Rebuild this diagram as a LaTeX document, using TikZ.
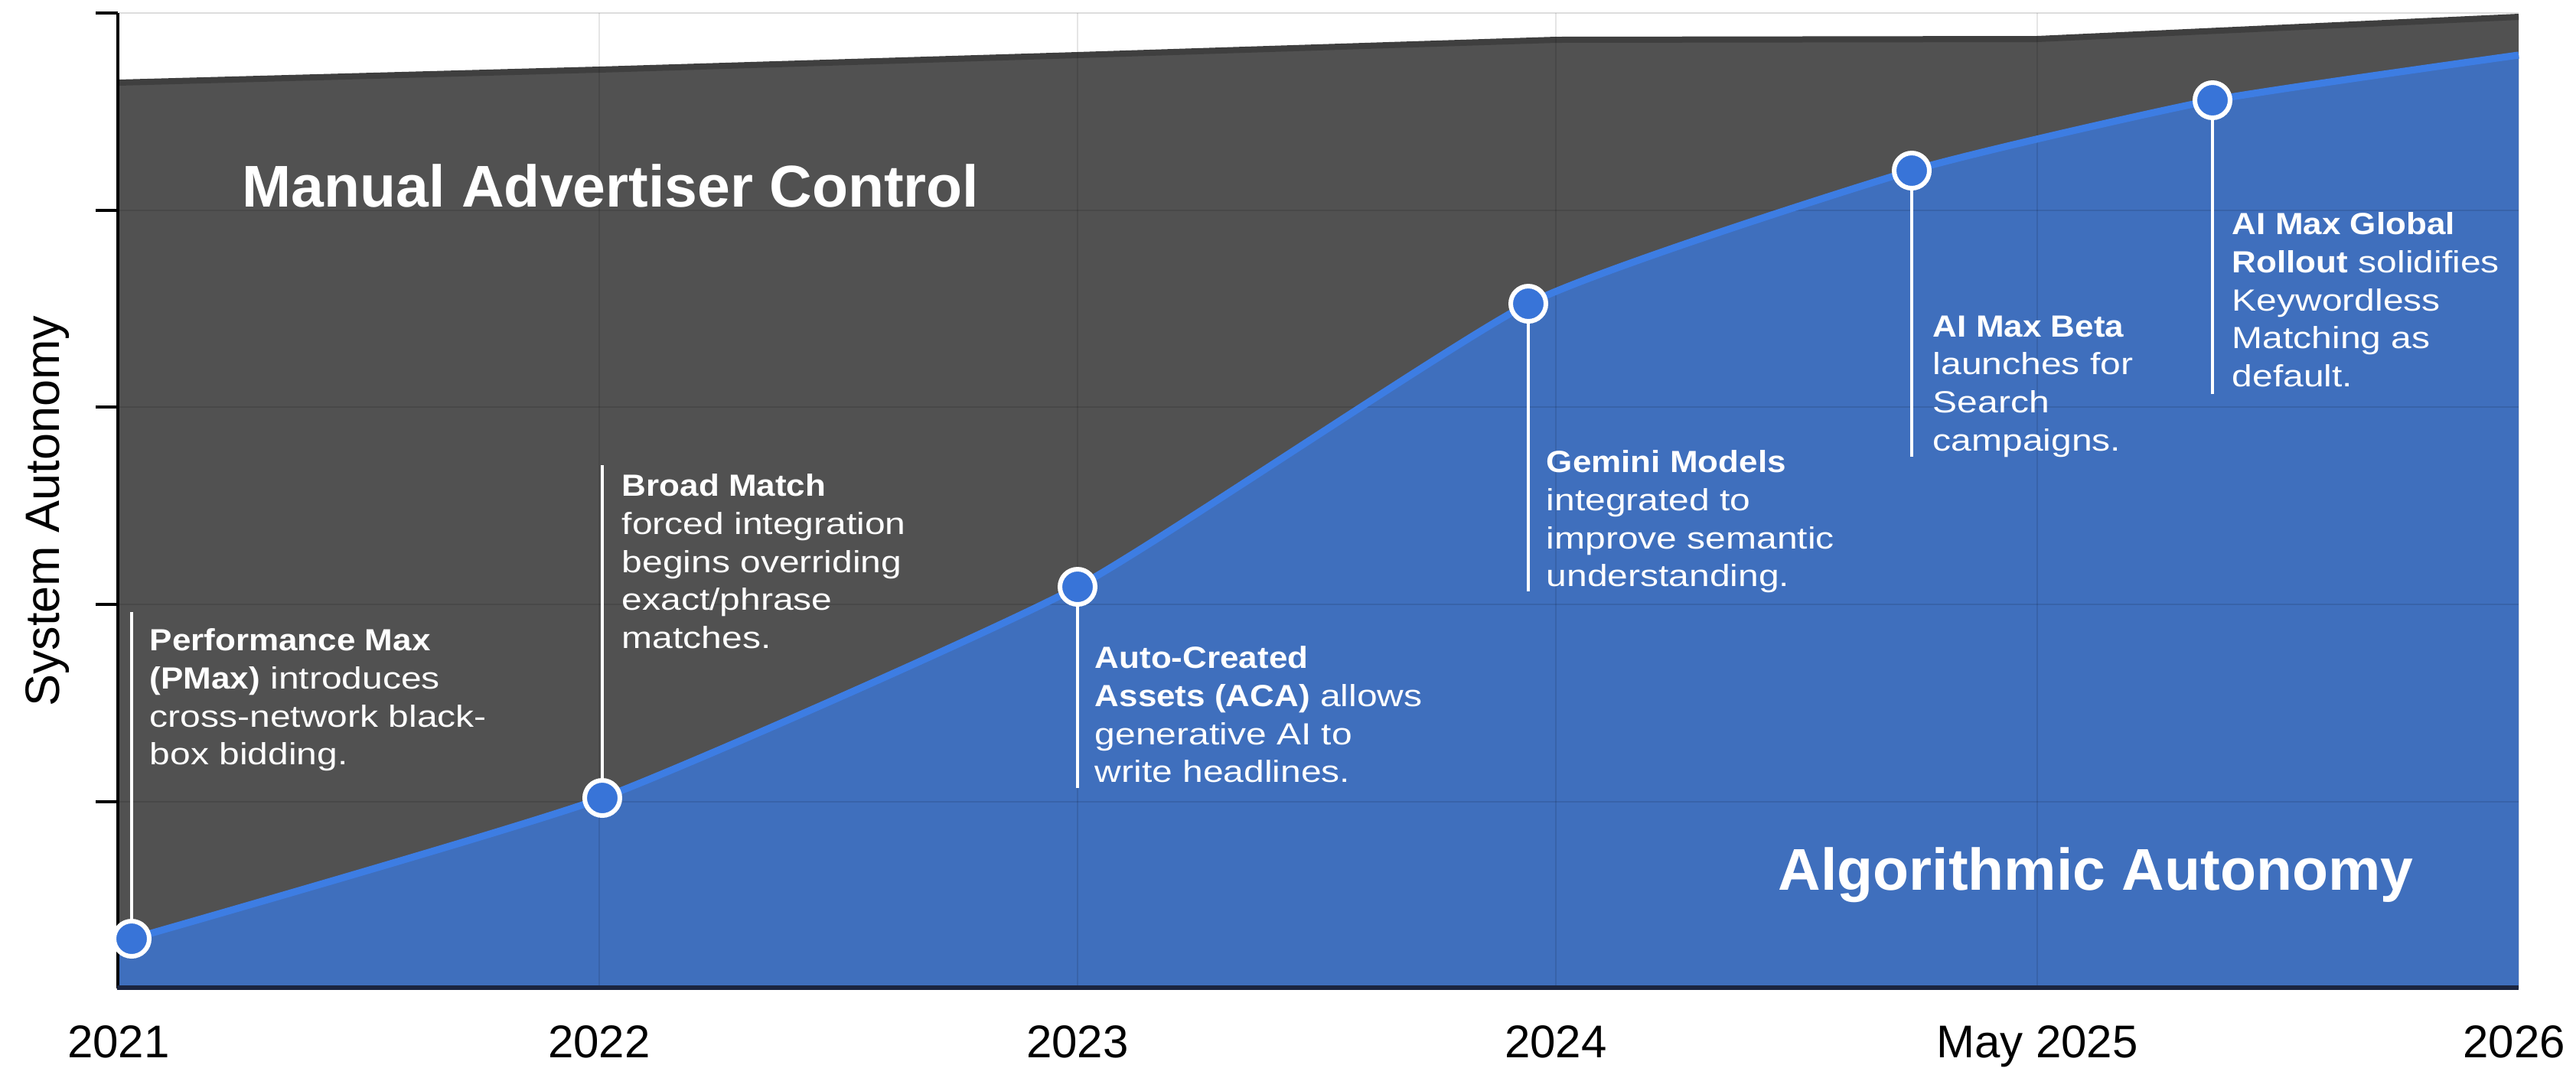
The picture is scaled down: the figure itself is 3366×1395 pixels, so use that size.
\documentclass[tikz,border=0pt]{standalone}
\usepackage{fontspec}
\setmainfont{Liberation Sans}
\newfontfamily\annfont{Liberation Sans}[FakeStretch=1.2, BoldFeatures={FakeStretch=1.1}]
\definecolor{manual}{HTML}{515151}
\definecolor{manualedge}{HTML}{3F3F3F}
\definecolor{algo}{HTML}{3F6FBD}
\definecolor{algoline}{HTML}{3D7DE3}
\definecolor{dotblue}{HTML}{3874D8}
\definecolor{axisnavy}{HTML}{1B2540}
\definecolor{gridlight}{HTML}{DDDDDD}
\begin{document}
\begin{tikzpicture}[x=0.25pt,y=-0.25pt,
  ann/.style={font=\annfont\fontsize{10pt}{12.4pt}\selectfont, text=white, align=left, anchor=north west, inner sep=0pt},
  big/.style={font=\fontsize{19.25pt}{22pt}\selectfont\bfseries, text=white, inner sep=0pt, anchor=base west},
  yr/.style={font=\fontsize{15pt}{18pt}\selectfont, text=black, anchor=base, inner sep=0pt},
  dot/.style={circle, draw=white, line width=1.5pt, fill=dotblue, minimum size=11.5pt, inner sep=0pt},
  leader/.style={draw=white, line width=1pt},
  grid/.style={black, opacity=0.1, line width=0.5pt},
]
\useasboundingbox (0,0) rectangle (3366,1395);
\fill[white] (0,0) rectangle (3366,1395);
% top border of plot
\draw[gridlight, line width=0.7pt] (155,17) -- (3291,17);
% manual control area
\fill[manual] (155,105) -- (783,88) -- (1408,69) -- (2033,49) -- (2662,48) -- (3291,19) -- (3291,1292) -- (155,1292) -- cycle;
\draw[manualedge, line width=2pt] (155,108) -- (783,91) -- (1408,72) -- (2033,52) -- (2662,51) -- (3291,22);
% algorithmic area
\fill[algo] (155,1292) -- plot[smooth, tension=0.3] coordinates {(155,1232) (787,1043) (1408,767) (1997,397) (2498,223) (2891,131) (3291,72)} -- (3291,1292) -- cycle;
% grid
\foreach \x in {783,1408,2033,2662} \draw[grid] (\x,17) -- (\x,1292);
\foreach \y in {275,532,790,1048} \draw[grid] (155,\y) -- (3291,\y);
% curve
\draw[algoline, line width=2.3pt, line join=round] plot[smooth, tension=0.3] coordinates {(155,1232) (787,1043) (1408,767) (1997,397) (2498,223) (2891,131) (3291,72)};
% axes
\draw[black, line width=1pt] (154,17) -- (154,1292);
\foreach \y in {17,275,532,790,1048} \draw[black, line width=1pt] (125,\y) -- (154,\y);
\draw[axisnavy, line width=1.3pt] (153,1291) -- (3291,1291);
% milestone dots
\node[dot] (c1) at (172,1227) {};
\node[dot] (c2) at (787,1043) {};
\node[dot] (c3) at (1408,767) {};
\node[dot] (c4) at (1997,397) {};
\node[dot] (c5) at (2498,223) {};
\node[dot] (c6) at (2891,131) {};
% leader ends
\coordinate (t1) at (172,800);
\coordinate (t2) at (787,608);
\coordinate (b3) at (1408,1030);
\coordinate (b4) at (1997,773);
\coordinate (b5) at (2498,597);
\coordinate (b6) at (2891,515);
\draw[leader] (t1) -- (c1);
\draw[leader] (t2) -- (c2);
\draw[leader] (c3) -- (b3);
\draw[leader] (c4) -- (b4);
\draw[leader] (c5) -- (b5);
\draw[leader] (c6) -- (b6);
% annotations
\node[ann] (a1) at (195,821) {\textbf{Performance Max}\\\textbf{(PMax)} introduces\\cross-network black-\\box bidding.};
\node[ann] (a2) at (812,619) {\textbf{Broad Match}\\forced integration\\begins overriding\\exact/phrase\\matches.};
\node[ann] (a3) at (1430,844) {\textbf{Auto-Created}\\\textbf{Assets (ACA)} allows\\generative AI to\\write headlines.};
\node[ann] (a4) at (2020,588) {\textbf{Gemini Models}\\integrated to\\improve semantic\\understanding.};
\node[ann] (a5) at (2525,412) {\textbf{AI Max Beta}\\launches for\\Search\\campaigns.};
\node[ann] (a6) at (2916,277) {\textbf{AI Max Global}\\\textbf{Rollout} solidifies\\Keywordless\\Matching as\\default.};
% region titles
\node[big] (manualtitle) at (316,270) {Manual Advertiser Control};
\node[big] (algotitle) at (2323,1163) {Algorithmic Autonomy};
% axis labels
\node[yr] (y2021) at (155,1382) {2021};
\node[yr] (y2022) at (783,1382) {2022};
\node[yr] (y2023) at (1408,1382) {2023};
\node[yr] (y2024) at (2033,1382) {2024};
\node[yr] (y2025) at (2662,1382) {May 2025};
\node[yr] (y2026) at (3285,1382) {2026};
\node[font=\fontsize{15.75pt}{18pt}\selectfont, rotate=90, anchor=base, inner sep=0pt] (ylab) at (78,668) {System Autonomy};
\end{tikzpicture}
\end{document}
